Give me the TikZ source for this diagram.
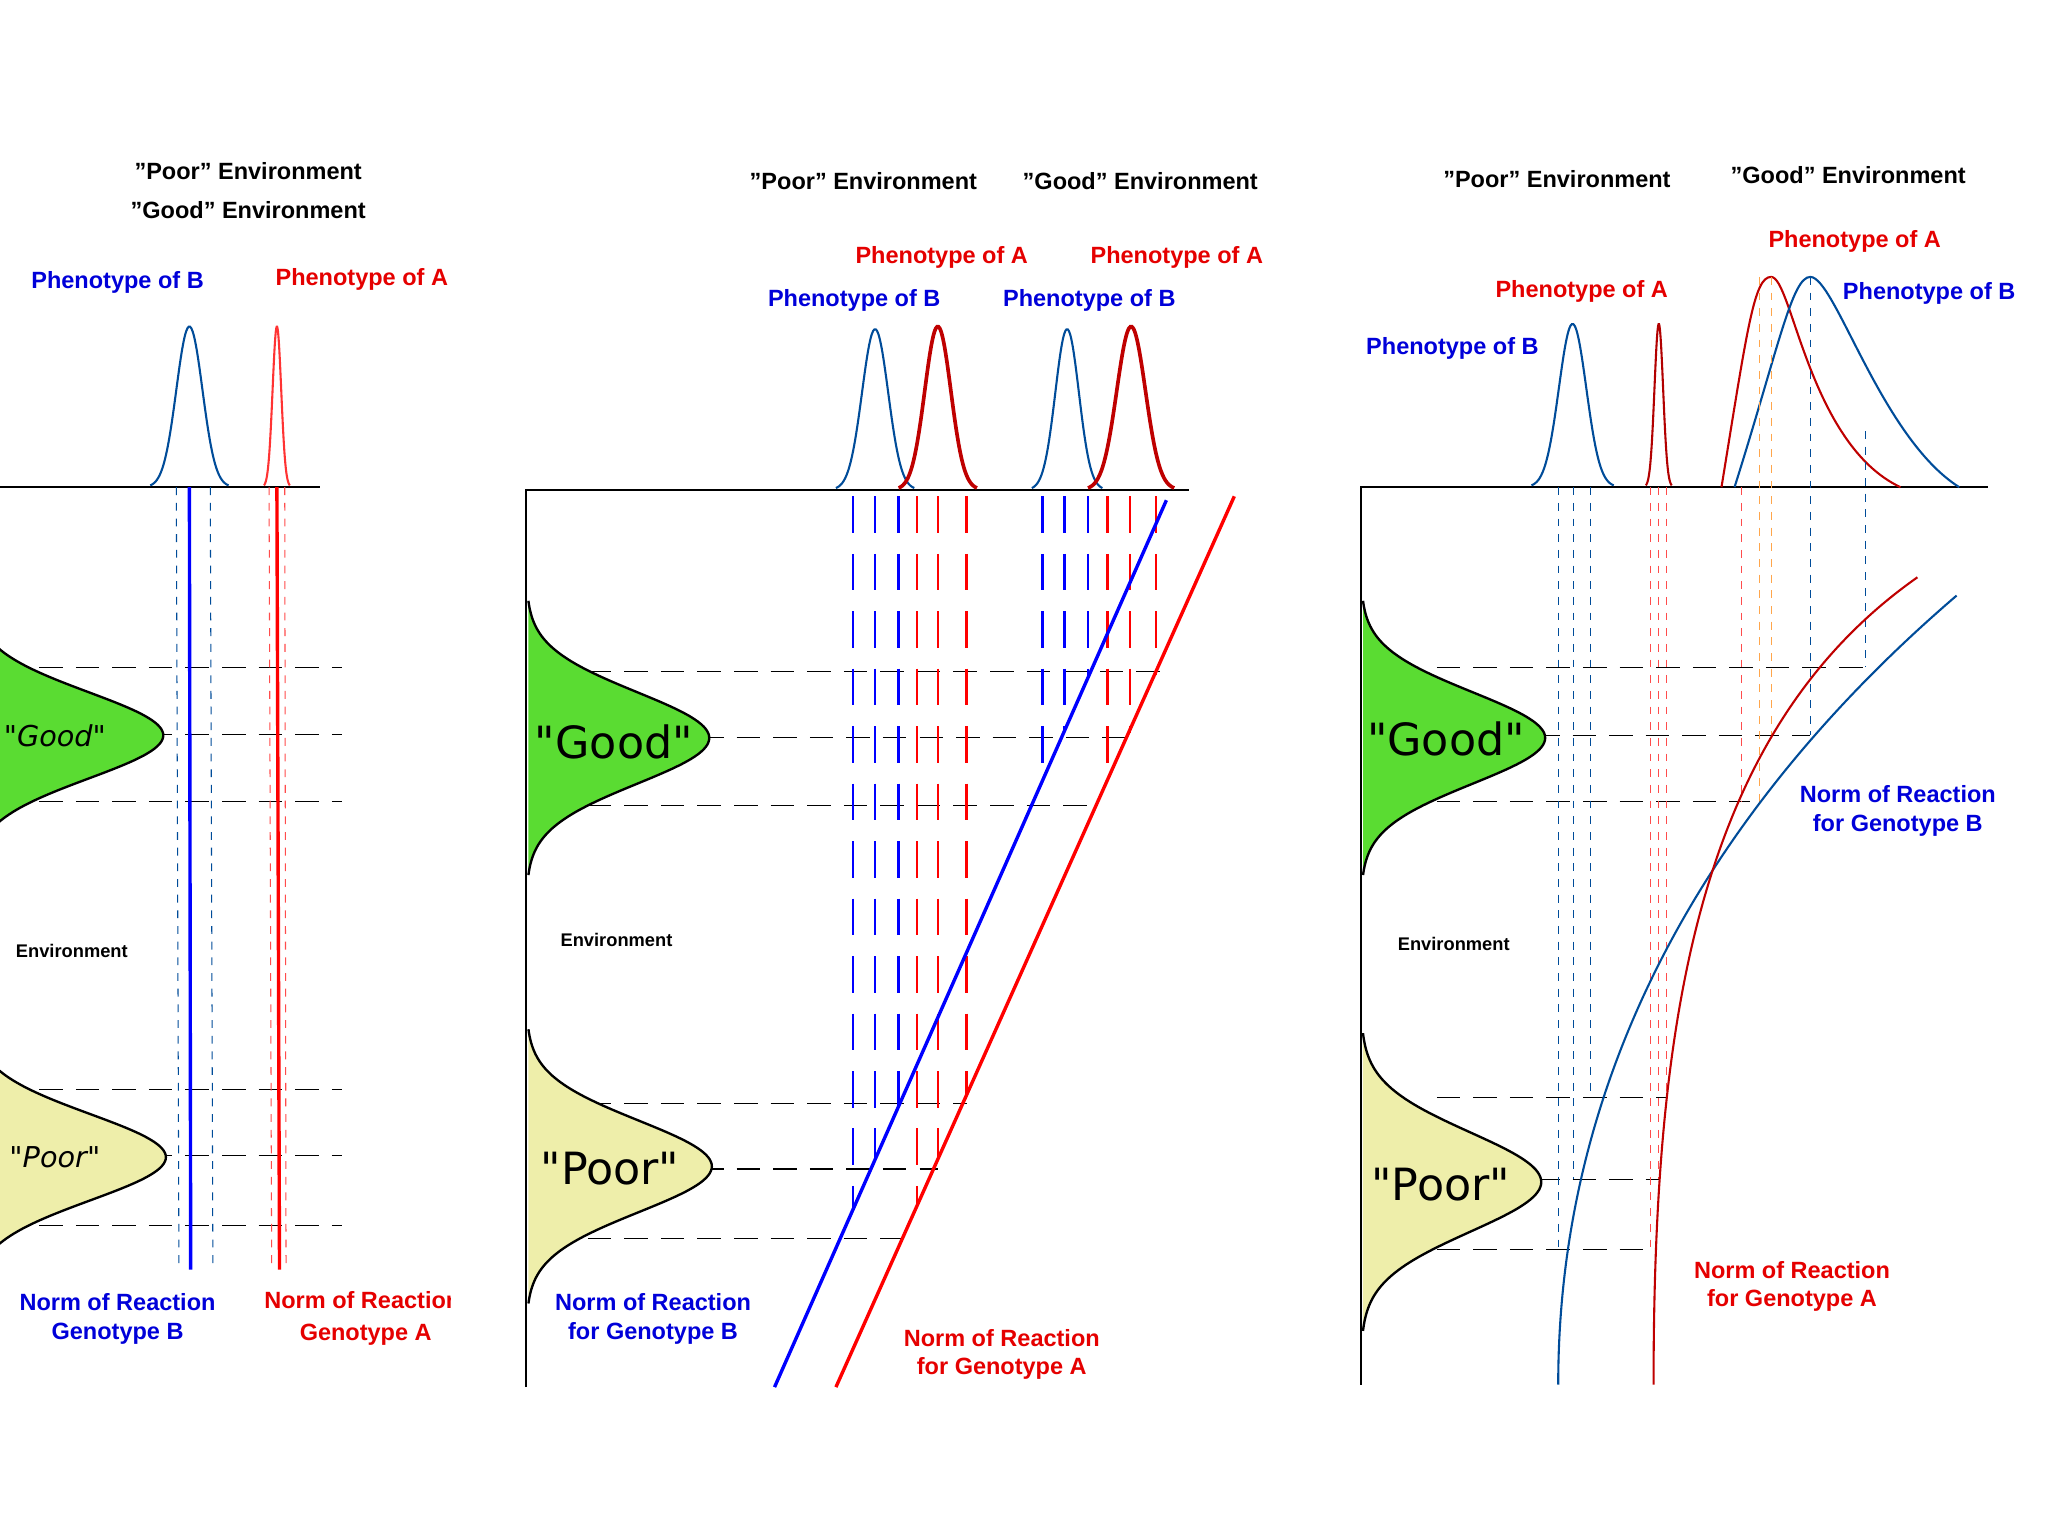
\documentclass[tikz,border=0pt]{standalone}
\usepackage{fontspec}
\setmainfont{Liberation Sans}
\newfontfamily\bigf{DejaVu Sans}
\newcommand{\qq}{\symbol{34}}
\begin{document}
\begin{tikzpicture}[x=0.5pt,y=-0.5pt,
 lbl/.style={font=\bfseries\fontsize{9}{11}\selectfont,align=center,inner sep=0pt},
 bl/.style={lbl,text=blue!85!black},
 rd/.style={lbl,text=red!90!black},
 env/.style={font=\bfseries\fontsize{7}{8}\selectfont,inner sep=0pt},
 big/.style={font=\bigf\fontsize{17}{18}\selectfont,inner sep=0pt},
 hd/.style={black,dashed,dash pattern=on 9pt off 5pt,thin},
 bvd/.style={blue!50!cyan!60!black,dashed,thin},
 rvd/.style={red!70,dashed,thin},
 bvd2/.style={blue,dashed,dash pattern=on 14pt off 8pt,line width=1pt},
 rvd2/.style={red,dashed,dash pattern=on 14pt off 8pt,line width=1pt},
 bc/.style={blue!50!cyan!60!black,line width=0.8pt},
 rc/.style={red!75!black,line width=0.8pt},
 gfill/.style={fill={rgb,255:red,90;green,220;blue,50},draw=black,line width=0.9pt},
 yfill/.style={fill={rgb,255:red,238;green,238;blue,170},draw=black,line width=0.9pt}]
\useasboundingbox (0,0) rectangle (1568,1176);
\fill[white] (0,0) rectangle (1568,1176);
% ---------- Panel 1
\begin{scope}
\clip (0,0) rectangle (345,1176);
\node[lbl] (t1a) at (190,131) {\qq Poor\qq{} Environment};
\node[lbl] (t1b) at (190,161) {\qq Good\qq{} Environment};
\node[bl] (p1b) at (90,216) {Phenotype of B};
\node[rd] (p1a) at (277,214) {Phenotype of A};
\draw[thick] (0,373) -- (245,373);
\draw[bc] plot[domain=-3:3,samples=60,smooth] ({145+10*\x},{373-123*exp(-\x*\x/2)});
\draw[rc,red!80] plot[domain=-3:3,samples=60,smooth] ({212+3.3*\x},{373-123*exp(-\x*\x/2)});
\foreach \y in {511,562,614,834,885,938} \draw[hd] (30,\y) -- (262,\y);
\draw[gfill] plot[domain=-3:3,samples=60,smooth] ({-20+145*exp(-\x*\x/2)},{563+\x*33});
\draw[yfill] plot[domain=-3:3,samples=60,smooth] ({-20+147*exp(-\x*\x/2)},{886+\x*33});
\draw[bvd] (135,373) -- (137,972); \draw[bvd] (161,373) -- (163,972);
\draw[blue,line width=1.3pt] (145,373) -- (146,972);
\draw[rvd] (206,373) -- (208,972); \draw[rvd] (218,373) -- (219,972);
\draw[red,line width=1.3pt] (212,373) -- (214,972);
\node[font=\itshape\bigf\fontsize{11}{13}\selectfont] (g1) at (42,563) {\qq Good\qq};
\node[font=\itshape\bigf\fontsize{11}{13}\selectfont] (q1) at (42,886) {\qq Poor\qq};
\node[env] (e1) at (55,728) {Environment};
\node[bl] (n1b) at (90,1010) {Norm of Reaction\\Genotype B};
\node[rd,anchor=north west] (n1a) at (202,988) {Norm of Reaction};
\node[rd] (n1a2) at (280,1022) {Genotype A};
\end{scope}
% ---------- Panel 2
\node[lbl] (t2a) at (661,139) {\qq Poor\qq{} Environment};
\node[lbl] (t2b) at (873,139) {\qq Good\qq{} Environment};
\node[rd] (p2a1) at (721,197) {Phenotype of A};
\node[rd] (p2a2) at (901,197) {Phenotype of A};
\node[bl] (p2b1) at (654,230) {Phenotype of B};
\node[bl] (p2b2) at (834,230) {Phenotype of B};
\draw[thick] (403,1062) -- (403,375) -- (910,375);
\draw[bc] plot[domain=-3:3,samples=60,smooth] ({670+10*\x},{375-123*exp(-\x*\x/2)});
\draw[bc] plot[domain=-3:3,samples=60,smooth] ({817+9*\x},{375-123*exp(-\x*\x/2)});
\draw[red!75!black,line width=1.4pt] plot[domain=-3:3,samples=60,smooth] ({718+10*\x},{375-125*exp(-\x*\x/2)});
\draw[red!75!black,line width=1.4pt] plot[domain=-3:3,samples=60,smooth] ({866+11*\x},{375-125*exp(-\x*\x/2)});
\coordinate (b2s) at (593,1062); \coordinate (b2e) at (893,383);
\coordinate (r2s) at (640,1062); \coordinate (r2e) at (945,380);
\draw[hd] (450,514) -- (888,514);
\draw[hd] (480,565) -- (865,565);
\draw[hd] (450,617) -- (840,617);
\draw[hd] (450,845) -- (740,845);
\draw[hd] (480,895) -- (718,895);
\draw[hd] (450,948) -- (695,948);
\draw[gfill] plot[domain=-3:3,samples=60,smooth] ({403+140*exp(-\x*\x/2)},{565+\x*35});
\draw[yfill] plot[domain=-3:3,samples=60,smooth] ({403+142*exp(-\x*\x/2)},{893+\x*35});
\foreach \x in {653,670,688} \draw[bvd2] (\x,380) -- (\x,{1062-2.263*(\x-593)});
\foreach \x in {798,815,833} \draw[bvd2] (\x,380) -- (\x,{1062-2.263*(\x-593)});
\foreach \x in {702,718,740,848,865,885} \draw[rvd2] (\x,380) -- (\x,{1062-2.226*(\x-640)});
\draw[blue,line width=1.3pt] (b2s) -- (b2e);
\draw[red,line width=1.3pt] (r2s) -- (r2e);
\node[big] (g2) at (470,568) {\qq Good\qq};
\node[big] (q2) at (467,895) {\qq Poor\qq};
\node[env] (e2) at (472,720) {Environment};
\node[bl] (n2b) at (500,1010) {Norm of Reaction\\for Genotype B};
\node[rd] (n2a) at (767,1037) {Norm of Reaction\\for Genotype A};
% ---------- Panel 3
\node[lbl] (t3a) at (1192,137) {\qq Poor\qq{} Environment};
\node[lbl] (t3b) at (1415,134) {\qq Good\qq{} Environment};
\node[rd] (p3a1) at (1211,223) {Phenotype of A};
\node[bl] (p3b1) at (1112,267) {Phenotype of B};
\node[rd] (p3a2) at (1420,185) {Phenotype of A};
\node[bl] (p3b2) at (1477,225) {Phenotype of B};
\draw[thick] (1042,1060) -- (1042,373) -- (1522,373);
\draw[bc] plot[domain=-3:3,samples=60,smooth] ({1204+10.5*\x},{373-125*exp(-\x*\x/2)});
\draw[red!70!black,line width=0.8pt] plot[domain=-3:3,samples=60,smooth] ({1270+3.3*\x},{373-125*exp(-\x*\x/2)});
\draw[red!75!black,line width=0.8pt] (1318,373) .. controls (1338,250) and (1343,212) .. (1356,212) .. controls (1372,212) and (1385,340) .. (1455,373);
\draw[bc] (1328,373) .. controls (1362,265) and (1372,212) .. (1386,212) .. controls (1405,212) and (1440,335) .. (1500,373);
\draw[hd] (1100,511) -- (1428,511);
\draw[hd] (1120,563) -- (1386,563);
\draw[hd] (1100,614) -- (1340,614);
\draw[hd] (1100,840) -- (1276,840);
\draw[hd] (1120,903) -- (1270,903);
\draw[hd] (1100,957) -- (1265,957);
\draw[gfill] plot[domain=-3:3,samples=60,smooth] ({1042+141*exp(-\x*\x/2)},{565+\x*35});
\draw[yfill] plot[domain=-3:3,samples=60,smooth] ({1042+138*exp(-\x*\x/2)},{905+\x*38});
\draw[bvd] (1193,373) -- (1193,957);
\draw[bvd] (1205,373) -- (1205,903);
\draw[bvd] (1218,373) -- (1218,840);
\draw[rvd] (1264,373) -- (1264,957);
\draw[rvd] (1270,373) -- (1270,903);
\draw[rvd] (1276,373) -- (1276,840);
\draw[rvd] (1333,373) -- (1333,614);
\draw[rvd,orange!70] (1347,212) -- (1347,614);
\draw[rvd,orange!70] (1356,212) -- (1356,563);
\draw[bvd] (1386,212) -- (1386,563);
\draw[bvd] (1428,330) -- (1428,511);
\coordinate (b3s) at (1193,1060); \coordinate (b3e) at (1498,456);
\coordinate (r3s) at (1266,1060); \coordinate (r3e) at (1468,442);
\draw[bc] (b3s) .. controls (1193,800) and (1330,600) .. (b3e);
\draw[red!75!black,line width=0.8pt] (r3s) .. controls (1266,780) and (1300,560) .. (r3e);
\node[big] (g3) at (1107,566) {\qq Good\qq};
\node[big] (q3) at (1103,907) {\qq Poor\qq};
\node[env] (e3) at (1113,723) {Environment};
\node[bl] (n3b) at (1453,621) {Norm of Reaction\\for Genotype B};
\node[rd] (n3a) at (1372,985) {Norm of Reaction\\for Genotype A};
\end{tikzpicture}
\end{document}
